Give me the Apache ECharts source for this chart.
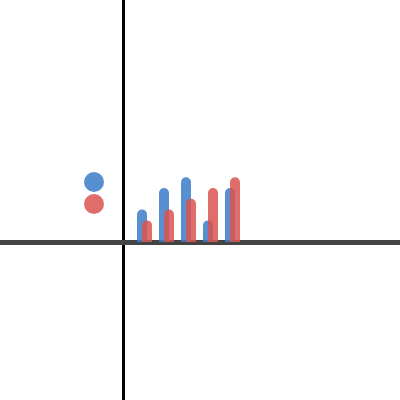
<!DOCTYPE html><html><head><meta charset="utf-8"><script src="https://cdn.jsdelivr.net/npm/echarts@6/dist/echarts.min.js"></script></head><body style="margin:0"><div id="c" style="width:400px;height:400px"></div><script>
var categories=['A','B','C','D','E'];
var blueValues=[3,5,6,2,5];
var redValues=[2,3,4,5,6];
var ch=echarts.init(document.getElementById('c'));
ch.setOption({animation:false,backgroundColor:'#fff',
legend:{orient:'vertical',left:79,top:167,itemWidth:20,itemHeight:20,itemGap:2,icon:'circle',formatter:function(){return '';},data:['Blue','Red']},
grid:[{left:133.5,width:110,top:0,bottom:158},{left:0,right:0,top:0,bottom:0}],
xAxis:[{type:'category',data:categories,gridIndex:0,axisLine:{show:false},axisTick:{show:false},axisLabel:{show:false}},
{type:'value',gridIndex:1,min:-123,max:277,axisLine:{onZero:true,lineStyle:{color:'#444',width:5}},axisTick:{show:false},axisLabel:{show:false},splitLine:{show:false}}],
yAxis:[{type:'value',gridIndex:0,min:0,max:22.4,show:false},
{type:'value',gridIndex:1,min:-158,max:242,axisLine:{show:true,onZero:true,lineStyle:{color:'#000',width:3}},axisTick:{show:false},axisLabel:{show:false},splitLine:{show:false}}],
series:[{name:'Blue',type:'bar',data:blueValues,barWidth:10,barGap:'-50%',itemStyle:{color:'#3a7bc8',opacity:0.85,borderRadius:[5,5,0,0]}},
{name:'Red',type:'bar',data:redValues,barWidth:10,itemStyle:{color:'#d9534f',opacity:0.85,borderRadius:[5,5,0,0]}}]});
</script></body></html>
